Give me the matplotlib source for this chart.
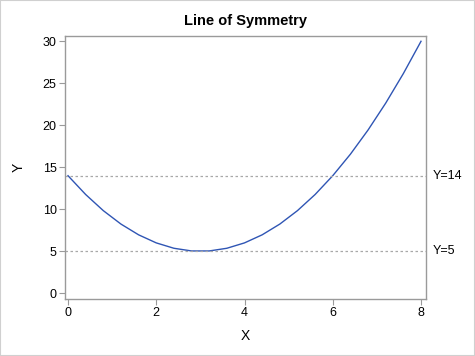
import matplotlib
matplotlib.use("Agg")
import matplotlib.pyplot as plt
from matplotlib.patches import Rectangle

plt.rcParams['font.family'] = ['Liberation Sans', 'DejaVu Sans']

# curve points
x = [0.0, 0.4, 0.8, 1.2, 1.6, 2.0, 2.4, 2.8, 3.2, 3.6, 4.0,
     4.4, 4.8, 5.2, 5.6, 6.0, 6.4, 6.8, 7.2, 7.6, 8.0]
y = [14.0, 11.76, 9.84, 8.24, 6.96, 6.0, 5.36, 5.04, 5.04, 5.36, 6.0,
     6.96, 8.24, 9.84, 11.76, 14.0, 16.56, 19.44, 22.64, 26.16, 30.0]

ref_values = [14, 5]
ref_labels = ["Y=14", "Y=5"]
x_ticks = [0, 2, 4, 6, 8]
y_ticks = [0, 5, 10, 15, 20, 25, 30]

fig = plt.figure(figsize=(4.75, 3.56), dpi=100)
ax = fig.add_axes([65 / 475, 1 - 299 / 356, 361 / 475, 263 / 356])

ax.plot(x, y, color='#2f55b4', lw=1.0)

for v, lab in zip(ref_values, ref_labels):
    ax.axhline(v, color='#a8a8a8', lw=0.9, ls=(0, (2, 2)))
    ax.annotate(lab, xy=(1, v), xycoords=('axes fraction', 'data'),
                xytext=(5, 0), textcoords='offset points',
                va='center', ha='left', fontsize=9, color='black')

ax.set_xlim(-0.068, 8.113)
ax.set_ylim(-0.68, 30.63)
ax.set_xticks(x_ticks)
ax.set_yticks(y_ticks)
ax.tick_params(direction='out', length=4, width=0.8, color='#9a9a9a',
               labelsize=9, pad=2)
for s in ax.spines.values():
    s.set_color('#9a9a9a')
    s.set_linewidth(1)

ax.set_title("Line of Symmetry", fontsize=10.5, fontweight='bold', pad=8)
ax.set_xlabel("X", fontsize=10, labelpad=7)
ax.set_ylabel("Y", fontsize=10, labelpad=12)

# light border around the whole image
fig.patches.append(Rectangle((0, 0), 1, 1, transform=fig.transFigure,
                             fill=False, edgecolor='#d0d0d0', lw=1.5))

fig.savefig("out.png", dpi=100)
